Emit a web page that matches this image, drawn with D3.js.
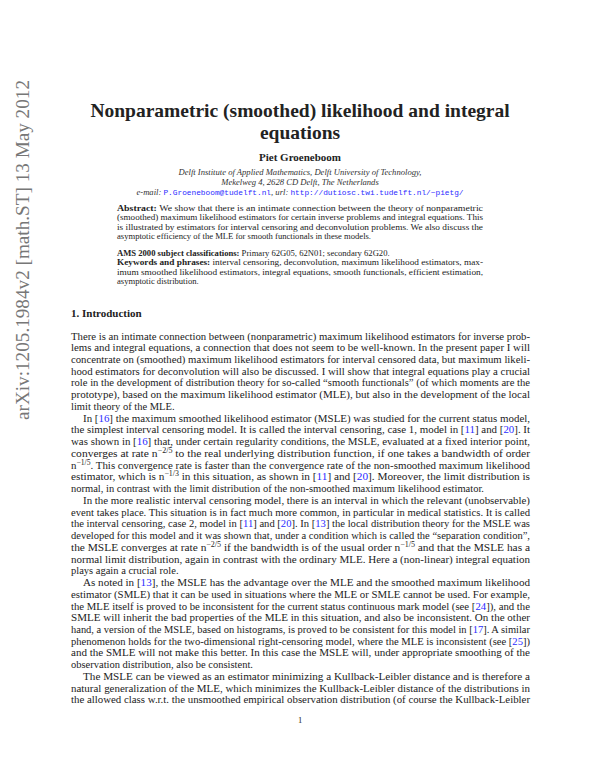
<!DOCTYPE html>
<html><head><meta charset="utf-8">
<script src="https://cdn.jsdelivr.net/npm/d3@7"></script>
<style>body{margin:0;background:#fff}</style></head>
<body><svg id="p" width="600" height="776"></svg>
<script>
const titleLines = ["Nonparametric (smoothed) likelihood and integral", "equations"];
const author = "Piet Groeneboom";
const affiliation = ["Delft Institute of Applied Mathematics, Delft University of Technology,", "Mekelweg 4, 2628 CD Delft, The Netherlands"];
const emailLine = [["e-mail: ", "i"], ["P.Groeneboom@tudelft.nl", "m"], [", url: ", "i"], ["http://dutiosc.twi.tudelft.nl/~pietg/", "m"]];
const abstractLines = [
 "@Abstract:@ We show that there is an intimate connection between the theory of nonparametric",
 "(smoothed) maximum likelihood estimators for certain inverse problems and integral equations. This",
 "is illustrated by estimators for interval censoring and deconvolution problems. We also discuss the",
 "|asymptotic efficiency of the MLE for smooth functionals in these models."];
const keyLines = [
 "|@AMS 2000 subject classifications:@ Primary 62G05, 62N01; secondary 62G20.",
 "@Keywords and phrases:@ interval censoring, deconvolution, maximum likelihood estimators, max-",
 "imum smoothed likelihood estimators, integral equations, smooth functionals, efficient estimation,",
 "|asymptotic distribution."];
const heading = "1.  Introduction";
const bodyLines = [
 "There is an intimate connection between (nonparametric) maximum likelihood estimators for inverse prob-",
 "lems and integral equations, a connection that does not seem to be well-known. In the present paper I will",
 "concentrate on (smoothed) maximum likelihood estimators for interval censored data, but maximum likeli-",
 "hood estimators for deconvolution will also be discussed. I will show that integral equations play a crucial",
 "role in the development of distribution theory for so-called “smooth functionals” (of which moments are the",
 "prototype), based on the maximum likelihood estimator (MLE), but also in the development of the local",
 "|limit theory of the MLE.",
 ">In [16] the maximum smoothed likelihood estimator (MSLE) was studied for the current status model,",
 "the simplest interval censoring model. It is called the interval censoring, case 1, model in [11] and [20]. It",
 "was shown in [16] that, under certain regularity conditions, the MSLE, evaluated at a fixed interior point,",
 "converges at rate n^{−2/5} to the real underlying distribution function, if one takes a bandwidth of order",
 "n^{−1/5}. This convergence rate is faster than the convergence rate of the non-smoothed maximum likelihood",
 "estimator, which is n^{−1/3} in this situation, as shown in [11] and [20]. Moreover, the limit distribution is",
 "|normal, in contrast with the limit distribution of the non-smoothed maximum likelihood estimator.",
 ">In the more realistic interval censoring model, there is an interval in which the relevant (unobservable)",
 "event takes place. This situation is in fact much more common, in particular in medical statistics. It is called",
 "the interval censoring, case 2, model in [11] and [20]. In [13] the local distribution theory for the MSLE was",
 "developed for this model and it was shown that, under a condition which is called the “separation condition”,",
 "the MSLE converges at rate n^{−2/5} if the bandwidth is of the usual order n^{−1/5} and that the MSLE has a",
 "normal limit distribution, again in contrast with the ordinary MLE. Here a (non-linear) integral equation",
 "|plays again a crucial role.",
 ">As noted in [13], the MSLE has the advantage over the MLE and the smoothed maximum likelihood",
 "estimator (SMLE) that it can be used in situations where the MLE or SMLE cannot be used. For example,",
 "the MLE itself is proved to be inconsistent for the current status continuous mark model (see [24]), and the",
 "SMLE will inherit the bad properties of the MLE in this situation, and also be inconsistent. On the other",
 "hand, a version of the MSLE, based on histograms, is proved to be consistent for this model in [17]. A similar",
 "phenomenon holds for the two-dimensional right-censoring model, where the MLE is inconsistent (see [25])",
 "and the SMLE will not make this better. In this case the MSLE will, under appropriate smoothing of the",
 "|observation distribution, also be consistent.",
 ">The MSLE can be viewed as an estimator minimizing a Kullback-Leibler distance and is therefore a",
 "natural generalization of the MLE, which minimizes the Kullback-Leibler distance of the distributions in",
 "the allowed class w.r.t. the unsmoothed empirical observation distribution (of course the Kullback-Leibler"];
const sidebar = "arXiv:1205.1984v2  [math.ST]  13 May 2012";
const pageNo = "1";

const svg = d3.select("#p");
const serif = "'Liberation Serif','DejaVu Serif',serif";
const blue = "#2b2bff";

function rich(textSel, s) {
  const re = /(\[\d+\])|(\^\{[^}]*\})|(@[^@]*@)/g;
  let last = 0, m, pend = 0;
  const add = (t, o) => {
    const ts = textSel.append("tspan").text(t);
    if (pend) { ts.attr("dy", pend); pend = 0; }
    if (o) o(ts);
  };
  while ((m = re.exec(s))) {
    if (m.index > last) add(s.slice(last, m.index));
    if (m[1]) { add("["); add(m[1].slice(1, -1), t => t.attr("fill", blue)); add("]"); }
    else if (m[2]) { add(m[2].slice(2, -1), t => t.attr("font-size", "0.7em").attr("dy", -4)); pend = 4; }
    else add(m[3].slice(1, -1), t => t.attr("font-weight", "bold"));
    last = m.index + m[0].length;
  }
  if (last < s.length) add(s.slice(last));
}

function block(lines, x0, x1, y0, dy, fs, indent) {
  const y = d3.scaleLinear().domain([0, 1]).range([y0, y0 + dy]);
  lines.forEach((raw, i) => {
    let s = raw, just = true, x = x0;
    if (s[0] === ">") { s = s.slice(1); x = x0 + indent; }
    if (s[0] === "|") { s = s.slice(1); just = false; }
    const t = svg.append("text").attr("x", x).attr("y", y(i)).attr("font-family", serif)
      .attr("font-size", fs).attr("fill", "#222");
    rich(t, s);
    if (just) t.attr("textLength", x1 - x).attr("lengthAdjust", "spacingAndGlyphs");
  });
}

titleLines.forEach((s, i) => svg.append("text").attr("x", 300).attr("y", 117 + i * 22)
  .attr("text-anchor", "middle").attr("font-family", serif).attr("font-weight", "bold")
  .attr("font-size", 19.5).attr("fill", "#222").text(s));
svg.append("text").attr("x", 300).attr("y", 161).attr("text-anchor", "middle")
  .attr("font-family", serif).attr("font-weight", "bold").attr("font-size", 11).attr("fill", "#222").text(author);
affiliation.forEach((s, i) => svg.append("text").attr("x", 300).attr("y", 174.5 + i * 10)
  .attr("text-anchor", "middle").attr("font-family", serif).attr("font-style", "italic")
  .attr("font-size", 8.6).attr("fill", "#333").text(s));
const em = svg.append("text").attr("x", 300).attr("y", 194.5).attr("text-anchor", "middle")
  .attr("font-size", 8.6).attr("fill", "#333");
emailLine.forEach(([s, k]) => em.append("tspan").text(s)
  .attr("font-family", k === "m" ? "'Liberation Mono','DejaVu Sans Mono',monospace" : serif)
  .attr("font-style", k === "i" ? "italic" : null).attr("fill", k === "m" ? blue : null)
  .attr("font-size", k === "m" ? 7.8 : 8.6));

block(abstractLines, 117, 483, 211, 9.4, 8.6, 0);
block(keyLines, 117, 483, 256, 9.3, 8.6, 0);

svg.append("text").attr("x", 71).attr("y", 316.5).attr("font-family", serif).attr("font-weight", "bold")
  .attr("font-size", 11).attr("fill", "#222").text(heading);

block(bodyLines, 71, 530, 339.5, 11.74, 10.5, 12);

svg.append("text").attr("x", 300).attr("y", 723).attr("text-anchor", "middle").attr("font-family", serif)
  .attr("font-size", 8.5).attr("fill", "#222").text(pageNo);

svg.append("text").attr("transform", "translate(29,420) rotate(-90)").attr("font-family", serif)
  .attr("font-size", 19).attr("fill", "#777").attr("textLength", 340).attr("lengthAdjust", "spacingAndGlyphs")
  .text(sidebar);
</script></body></html>
